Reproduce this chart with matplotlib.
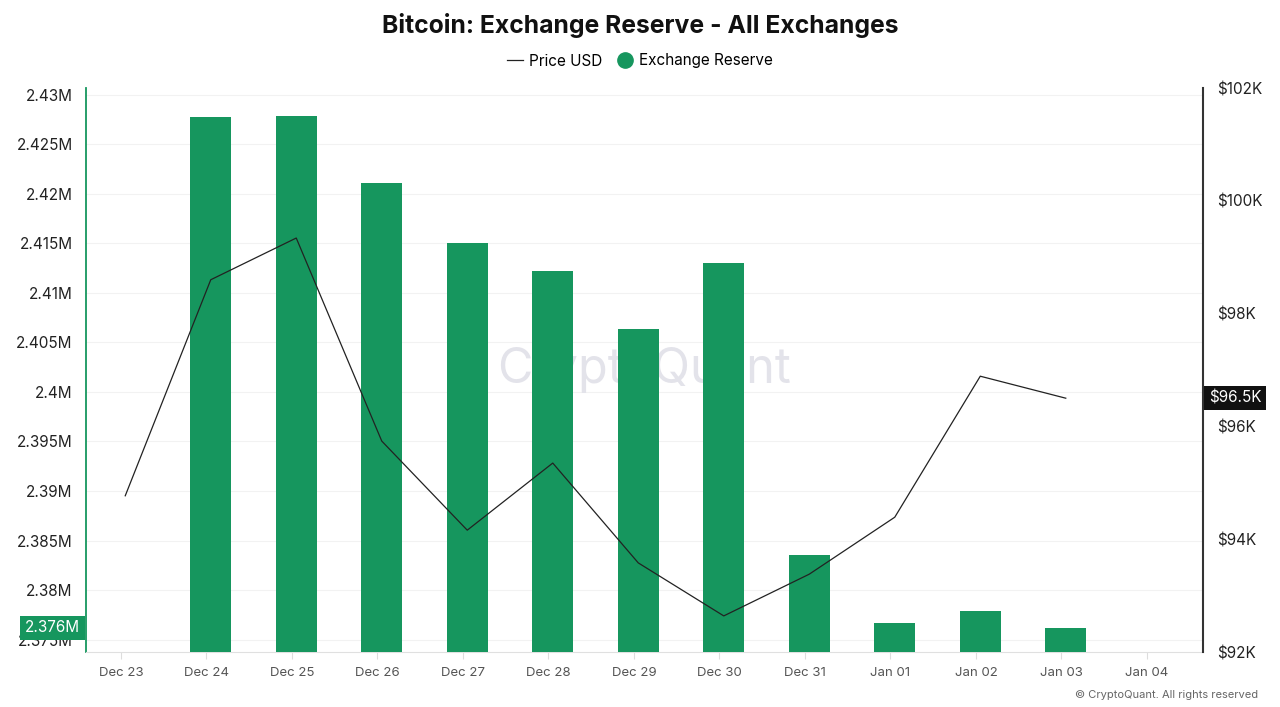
import matplotlib.pyplot as plt
from matplotlib.lines import Line2D
import numpy as np

plt.rcParams['font.family'] = ['Inter', 'DejaVu Sans']

dates = ['Dec 23', 'Dec 24', 'Dec 25', 'Dec 26', 'Dec 27', 'Dec 28', 'Dec 29',
         'Dec 30', 'Dec 31', 'Jan 01', 'Jan 02', 'Jan 03', 'Jan 04']
# exchange reserve in BTC (millions); no bar for Dec 23 / Jan 04
reserve = [np.nan, 2.42778, 2.4279, 2.42111, 2.41505, 2.41222, 2.40636,
           2.41303, 2.38354, 2.37667, 2.37788, 2.37617, np.nan]
# price in USD (thousands)
price = [94.77, 98.60, 99.34, 95.74, 94.16, 95.35, 93.58, 92.64, 93.38,
         94.39, 96.89, 96.50, np.nan]

left_ticks = [2.375, 2.38, 2.385, 2.39, 2.395, 2.4, 2.405, 2.41, 2.415, 2.42, 2.425, 2.43]
left_labels = ['2.375M', '2.38M', '2.385M', '2.39M', '2.395M', '2.4M', '2.405M',
               '2.41M', '2.415M', '2.42M', '2.425M', '2.43M']
right_ticks = [92, 94, 96, 98, 100, 102]
right_labels = ['$92K', '$94K', '$96K', '$98K', '$100K', '$102K']

green = '#16965e'
ylo, yhi = 2.37374, 2.4307

fig = plt.figure(figsize=(12.8, 7.07), dpi=100)
ax = fig.add_axes([86/1280, 1-652/707, (1203-86)/1280, (652-88)/707])
ax2 = ax.twinx()

x = np.arange(len(dates))
xs = x + 0.05
res = np.array(reserve)
ax.bar(xs, res - ylo, bottom=ylo, width=0.48, color=green, zorder=3)
ax.set_ylim(ylo, yhi)
ax.set_xlim(-0.409, 12.655)
ax.set_xticks(x)
ax.set_xticklabels(dates, color='#555555', fontsize=9.5)
ax.set_yticks(left_ticks)
ax.set_yticklabels(left_labels, fontsize=11, color='#222222')
ax.tick_params(axis='y', length=0, pad=9.5)
ax.tick_params(axis='x', length=5, color='#dddddd', pad=6)
ax.grid(axis='y', color='#f2f2f2', linewidth=0.8, zorder=0)
ax.set_axisbelow(True)
for s in ['top', 'right']:
    ax.spines[s].set_visible(False)
ax.spines['left'].set_color(green)
ax.spines['left'].set_linewidth(1.3)
ax.spines['bottom'].set_color('#e0e0e0')

ax2.plot(xs, price, color='#222222', linewidth=0.9, zorder=4)
ax2.set_ylim(92, 102)
ax2.set_yticks(right_ticks)
ax2.set_yticklabels(right_labels, fontsize=11, color='#222222')
ax2.tick_params(axis='y', length=0, pad=10)
for s in ['top', 'left', 'bottom']:
    ax2.spines[s].set_visible(False)
ax2.spines['right'].set_color('#333333')
ax2.spines['right'].set_linewidth(1.5)

# watermark
ax.text(0.5, 0.5, 'CryptoQuant', transform=ax.transAxes, ha='center', va='center',
        fontsize=35, color='#e3e3ea', zorder=1)

# last value labels
ax.text(-6/1117, 2.37617, '2.376M', transform=ax.get_yaxis_transform(), ha='right',
        va='center', fontsize=11, color='white',
        bbox=dict(boxstyle='square,pad=0.3', fc=green, ec='none'), clip_on=False)
ax2.text(6/1117, 96.50, '$96.5K', transform=ax2.get_yaxis_transform(), ha='left',
         va='center', fontsize=11, color='white',
         bbox=dict(boxstyle='square,pad=0.3', fc='#111111', ec='none'), clip_on=False)
ax2.texts[-1].set_x(1 + 6/1117)

fig.text(0.5, 1-25/707, 'Bitcoin: Exchange Reserve - All Exchanges', ha='center',
         va='center', fontsize=17.8, fontweight='bold', color='#111111')
handles = [Line2D([], [], color='#222222', linewidth=0.9),
           Line2D([], [], marker='o', linestyle='none', color=green, markersize=11)]
fig.legend(handles, ['Price USD', 'Exchange Reserve'], loc='center',
           bbox_to_anchor=(0.5, 1-61/707), ncol=2, frameon=False, fontsize=11,
           handlelength=1.0, handletextpad=0.4, columnspacing=1.0)
fig.text(1258/1280, 1-695/707, '© CryptoQuant. All rights reserved', ha='right',
         va='center', fontsize=8, color='#666666')

fig.savefig('out.png', dpi=100)
